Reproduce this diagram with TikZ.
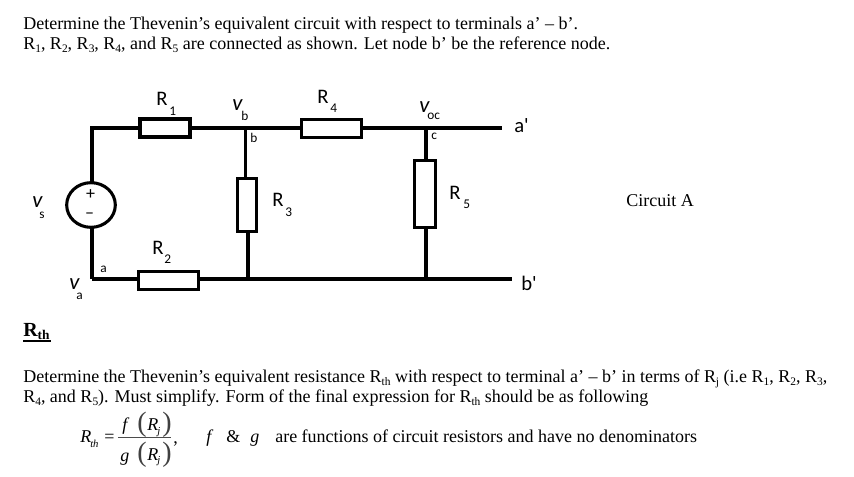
\documentclass[tikz,border=0pt]{standalone}
\usepackage{fontspec}
\usetikzlibrary{shapes.geometric}
\setmainfont{Liberation Serif}
\newfontfamily\calib{Carlito}
\newcommand{\sbx}[1]{\raisebox{-1.6pt}{\fontsize{8.6pt}{10pt}\selectfont #1}}
\tikzset{
  x=0.75pt,y=-0.75pt,
  wire/.style={line width=2.3pt,black},
  res/.style={draw=black,fill=white,line width=2.3pt,inner sep=0pt,outer sep=0pt},
  source/.style={ellipse,draw=black,fill=white,line width=2.3pt,inner sep=0pt,outer sep=0pt,minimum width=36.5pt,minimum height=33.5pt},
  txt/.style={anchor=base west,inner sep=0pt,font=\fontsize{13.5pt}{16pt}\selectfont},
  lab/.style={anchor=base west,inner sep=0pt,font=\calib\fontsize{15.5pt}{17pt}\selectfont},
  sublab/.style={anchor=base west,inner sep=0pt,font=\calib\fontsize{10pt}{11pt}\selectfont},
  vlab/.style={anchor=base west,inner sep=0pt,font=\calib\itshape\fontsize{17pt}{18pt}\selectfont},
  polar/.style={anchor=center,inner sep=0pt,font=\calib\fontsize{13.5pt}{14pt}\selectfont},
  mth/.style={anchor=base west,inner sep=0pt,font=\itshape\fontsize{13.5pt}{16pt}\selectfont},
  msub/.style={anchor=base west,inner sep=0pt,font=\itshape\fontsize{8pt}{9pt}\selectfont},
  paren/.style={anchor=base west,inner sep=0pt,font=\fontsize{21pt}{21pt}\selectfont,color=black!75},
}
\begin{document}
\begin{tikzpicture}
\useasboundingbox (0,0) rectangle (854,477);
% text
\node[txt] (t1) at (23,30) {Determine the Thevenin’s equivalent circuit with respect to terminals a’ – b’.};
\node[txt] (t2) at (23,50) {R\sbx{1}, R\sbx{2}, R\sbx{3}, R\sbx{4}, and R\sbx{5} are connected as shown. Let node b’ be the reference node.};
\node[txt] (ca) at (626,207) {Circuit A};
\node[anchor=base west,inner sep=0pt,font=\fontsize{15pt}{17pt}\selectfont\bfseries] (h) at (23,337) {R\raisebox{-1.6pt}{\fontsize{10pt}{11pt}\selectfont th}};
\draw[line width=1.1pt,black] (23,341) -- (50.5,341);
\node[txt] (t3) at (23,383) {Determine the Thevenin’s equivalent resistance R\sbx{th} with respect to terminal a’ – b’ in terms of R\sbx{j} (i.e R\sbx{1}, R\sbx{2}, R\sbx{3},};
\node[txt] (t4) at (23,403) {R\sbx{4}, and R\sbx{5}). Must simplify. Form of the final expression for R\sbx{th} should be as following};
% coordinates
\coordinate (tl) at (92,128);
\coordinate (bl) at (92,279);
\coordinate (jb) at (245.5,128);
\coordinate (jc) at (426,128);
\coordinate (ja) at (502,128);
\coordinate (jd) at (248,279);
\coordinate (je) at (426,279);
\coordinate (jf) at (512,279);
% wires
\draw[wire,line join=miter] (bl) -- (tl) -- (ja);
\draw[wire] (bl) -- (jf);
\draw[wire] (jb) -- (245.5,178);
\draw[wire] (248,232) -- (jd);
\draw[wire] (jc) -- (je);
% parts
\node[res,minimum width=37.5pt,minimum height=13.5pt] (R1) at (165,128) {};
\node[res,minimum width=45pt,minimum height=14pt] (R2) at (168.5,280.5) {};
\node[res,minimum width=14.5pt,minimum height=40pt] (R3) at (247,205) {};
\node[res,minimum width=45pt,minimum height=14pt] (R4) at (331.5,128.5) {};
\node[res,minimum width=15.5pt,minimum height=50pt] (R5) at (425,194) {};
\node[source] (V) at (91,205) {};
\node[polar] (plus) at (90.5,194.5) {+};
\node[polar] (minus) at (89.5,215.5) {–};
% labels
\node[lab] (lR1) at (156,106) {R};
\node[sublab] (s1) at (169,116) {1};
\node[lab] (lR2) at (152,255) {R};
\node[sublab] (s2) at (164,264) {2};
\node[lab] (lR3) at (272,207) {R};
\node[sublab] (s3) at (285,217) {3};
\node[lab] (lR4) at (317,104) {R};
\node[sublab] (s4) at (330,113) {4};
\node[lab] (lR5) at (449,200) {R};
\node[sublab] (s5) at (463,209) {5};
\node[vlab] (lvb) at (232,111) {v};
\node[sublab] (svb) at (241,121) {b};
\node[vlab] (lvs) at (32,208) {v};
\node[sublab] (svs) at (39,219) {s};
\node[vlab] (lva) at (69,290) {v};
\node[sublab] (sva) at (76,300) {a};
\node[vlab] (lvo) at (419,113) {v};
\node[sublab] (svo) at (427,120) {oc};
\node[sublab] (nb) at (250,143) {b};
\node[sublab] (nc) at (431,140) {c};
\node[sublab] (na) at (100,273) {a};
\node[lab] (ta) at (514,133) {a\textquotesingle};
\node[lab] (tb) at (521,291) {b\textquotesingle};
% formula
\node[mth] (frR) at (80,443) {R};
\node[msub] (frth) at (90,448) {th};
\node[txt] (freq) at (104,443) {=};
\draw[line width=0.7pt,black!70] (118,437) -- (171,437);
\node[mth] (frf) at (122,431) {f};
\node[paren] (lp1) at (137,432) {(};
\node[mth] (frR1) at (147,431) {R};
\node[msub] (j1) at (157,435) {j};
\node[paren] (rp1) at (162,432) {)};
\node[mth] (frg) at (120,461) {g};
\node[paren] (lp2) at (137,461) {(};
\node[mth] (frR2) at (147,460) {R};
\node[msub] (j2) at (157,464) {j};
\node[paren] (rp2) at (162,461) {)};
\node[txt] (comma) at (173,444) {,};
\node[mth] (ff) at (206,443) {f};
\node[txt] (amp) at (226,443) {\&};
\node[mth] (fg) at (250,443) {g};
\node[txt] (rest) at (275,443) {are functions of circuit resistors and have no denominators};
\end{tikzpicture}
\end{document}
